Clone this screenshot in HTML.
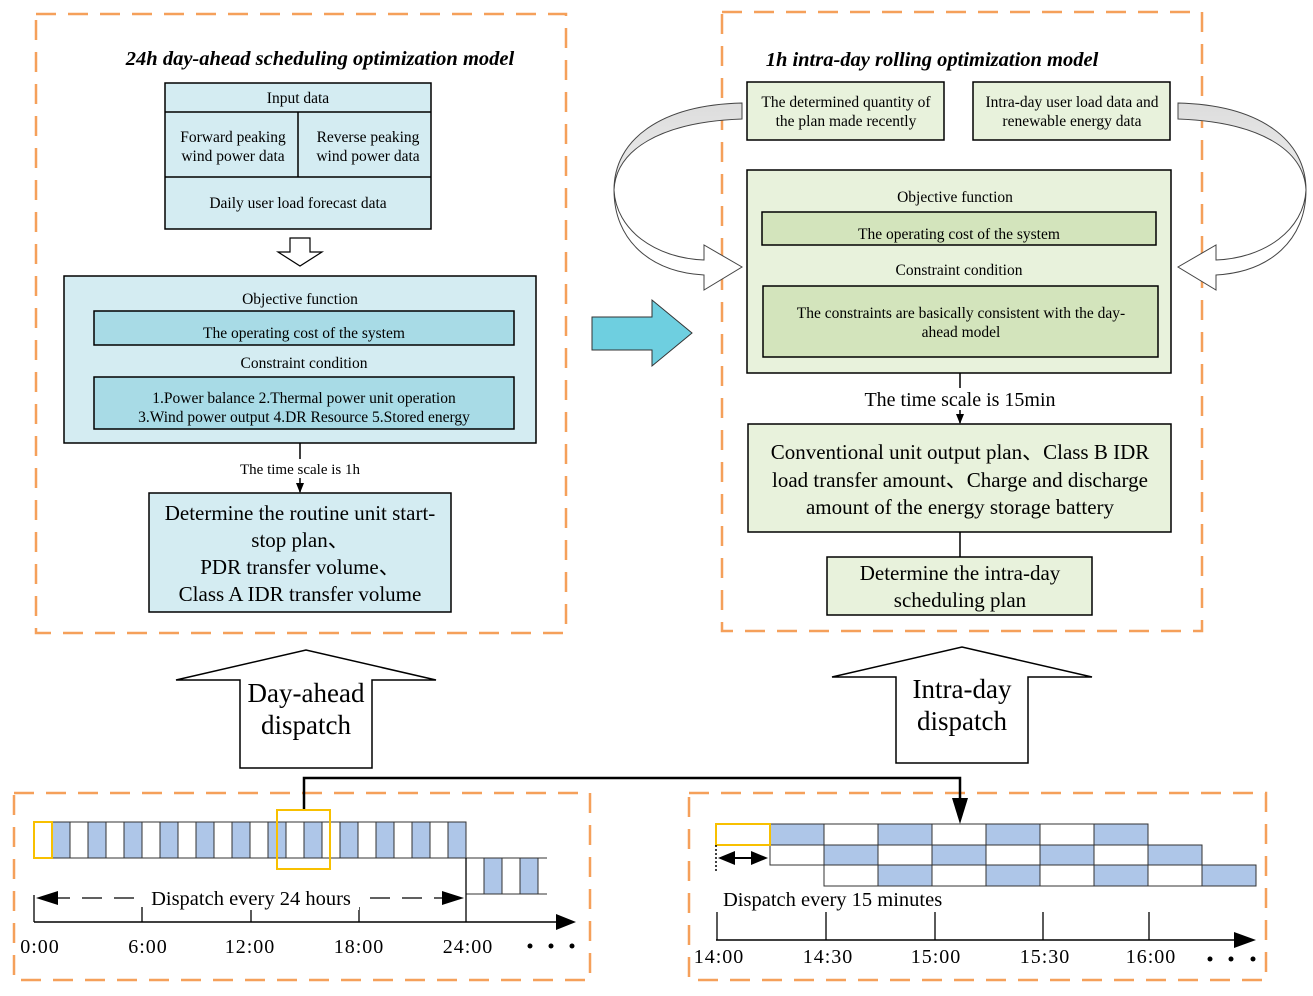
<!DOCTYPE html>
<html><head><meta charset="utf-8"><style>
body{margin:0;background:#fff}
svg text{font-family:"Liberation Serif",serif;fill:#000}
</style></head><body>
<svg width="1313" height="991" viewBox="0 0 1313 991" xmlns="http://www.w3.org/2000/svg">
<defs>
<linearGradient id="g" x1="0" y1="0" x2="0" y2="1"><stop offset="0" stop-color="#ddd"/><stop offset="0.5" stop-color="#eee"/><stop offset="0.55" stop-color="#fff"/><stop offset="1" stop-color="#fff"/></linearGradient>
<marker id="ah" markerWidth="10" markerHeight="10" refX="9" refY="5" orient="auto" markerUnits="userSpaceOnUse"><path d="M0,1 L10,5 L0,9 Z" fill="#000"/></marker>
</defs>
<g fill="none" stroke="#f5a05a" stroke-width="2.5" stroke-dasharray="20,12">
<rect x="36" y="14" width="530" height="619"/>
<rect x="722" y="12" width="480" height="619"/>
<rect x="14" y="793" width="576" height="187"/>
<rect x="689" y="793" width="577" height="187"/>
</g>
<!-- LEFT TOP -->
<text x="320" y="65" font-size="20.5" font-weight="bold" font-style="italic" text-anchor="middle">24h day-ahead scheduling optimization model</text>
<g stroke="#000" stroke-width="1.5" fill="#d4ecf2">
<rect x="165" y="83" width="266" height="146"/>
<line x1="165" y1="112" x2="431" y2="112"/><line x1="165" y1="177" x2="431" y2="177"/><line x1="298" y1="112" x2="298" y2="177"/>
</g>
<g font-size="15.5" text-anchor="middle">
<text x="298" y="103">Input data</text>
<text x="233" y="142">Forward peaking</text><text x="233" y="161">wind power data</text>
<text x="368" y="142">Reverse peaking</text><text x="368" y="161">wind power data</text>
<text x="298" y="208">Daily user load forecast data</text>
</g>
<path d="M290,238 H310 V252 H322 L300,266 L278,252 H290 Z" fill="#fff" stroke="#000" stroke-width="1.2"/>
<rect x="64" y="276" width="472" height="167" fill="#d4ecf2" stroke="#000" stroke-width="1.5"/>
<rect x="94" y="311" width="420" height="34" fill="#a8dbe6" stroke="#000" stroke-width="1.5"/>
<rect x="94" y="377" width="420" height="52" fill="#a8dbe6" stroke="#000" stroke-width="1.5"/>
<g font-size="15.5" text-anchor="middle">
<text x="300" y="304">Objective function</text>
<text x="304" y="338">The operating cost of the system</text>
<text x="304" y="368">Constraint condition</text>
<text x="304" y="403">1.Power balance 2.Thermal power unit operation</text>
<text x="304" y="422">3.Wind power output 4.DR Resource 5.Stored energy</text>
</g>
<line x1="300" y1="443" x2="300" y2="492" stroke="#000" stroke-width="1.5" marker-end="url(#ah)"/>
<rect x="236" y="459" width="130" height="19" fill="#fff"/>
<text x="300" y="474" font-size="15" text-anchor="middle">The time scale is 1h</text>
<rect x="149" y="493" width="302" height="119" fill="#d4ecf2" stroke="#000" stroke-width="1.5"/>
<g font-size="21" text-anchor="middle">
<text x="300" y="520">Determine the routine unit start-</text>
<text x="300" y="547">stop plan、</text>
<text x="300" y="574">PDR transfer volume、</text>
<text x="300" y="601">Class A IDR transfer volume</text>
</g>
<path d="M592,317 H652 V300 L692,333 L652,366 V350 H592 Z" fill="#6ecfe0" stroke="#333" stroke-width="1"/>
<!-- RIGHT TOP -->
<text x="932" y="66" font-size="20.5" font-weight="bold" font-style="italic" text-anchor="middle">1h intra-day rolling optimization model</text>
<g stroke="#000" stroke-width="1.5" fill="#e8f2dc">
<rect x="747" y="82" width="197" height="58"/>
<rect x="973" y="82" width="197" height="58"/>
<rect x="747" y="170" width="424" height="203"/>
<rect x="762" y="212" width="394" height="33" fill="#d3e4bc"/>
<rect x="763" y="286" width="395" height="71" fill="#d3e4bc"/>
<rect x="748" y="424" width="423" height="108"/>
<rect x="827" y="557" width="265" height="58"/>
</g>
<g font-size="15.5" text-anchor="middle">
<text x="846" y="107">The determined quantity of</text><text x="846" y="126">the plan made recently</text>
<text x="1072" y="107">Intra-day user load data and</text><text x="1072" y="126">renewable energy data</text>
<text x="955" y="202">Objective function</text>
<text x="959" y="239">The operating cost of the system</text>
<text x="959" y="275">Constraint condition</text>
<text x="961" y="318">The constraints are basically consistent with the day-</text>
<text x="961" y="337">ahead model</text>
</g>
<line x1="960" y1="373" x2="960" y2="423" stroke="#000" stroke-width="1.5" marker-end="url(#ah)"/>
<rect x="852" y="388" width="216" height="22" fill="#fff"/>
<text x="960" y="406" font-size="20" text-anchor="middle">The time scale is 15min</text>
<g font-size="21" text-anchor="middle">
<text x="960" y="459">Conventional unit output plan、Class B IDR</text>
<text x="960" y="487">load transfer amount、Charge and discharge</text>
<text x="960" y="514">amount of the energy storage battery</text>
<text x="960" y="580">Determine the intra-day</text>
<text x="960" y="607">scheduling plan</text>
</g>
<line x1="960" y1="532" x2="960" y2="557" stroke="#000" stroke-width="1.5"/>
<!-- curved arrows -->
<path d="M742,103 C660,105 614,140 614,190 C614,240 650,272 704,275 L704,290 L742,267 L704,245 L704,260 C655,258 616,230 614,190 C616,150 660,122 742,119 Z" fill="url(#g)" stroke="#444" stroke-width="1"/>
<path d="M742,103 C660,105 614,140 614,190 C614,240 650,272 704,275 L704,290 L742,267 L704,245 L704,260 C655,258 616,230 614,190 C616,150 660,122 742,119 Z" fill="url(#g)" stroke="#444" stroke-width="1" transform="translate(1920,0) scale(-1,1)"/>
<!-- up arrows -->
<path d="M240,768 V680 H176 L306,650 L436,680 H372 V768 Z" fill="#fff" stroke="#000" stroke-width="1.5"/>
<text x="306" y="702" font-size="27" text-anchor="middle">Day-ahead</text>
<text x="306" y="734" font-size="27" text-anchor="middle">dispatch</text>
<path d="M896,763 V677 H832 L962,647 L1092,677 H1028 V763 Z" fill="#fff" stroke="#000" stroke-width="1.5"/>
<text x="962" y="698" font-size="27" text-anchor="middle">Intra-day</text>
<text x="962" y="730" font-size="27" text-anchor="middle">dispatch</text>
<!-- connector -->
<polyline points="304,810 304,778 960,778 960,800" fill="none" stroke="#000" stroke-width="2.5"/>
<path d="M952,798 L968,798 L960,824 Z" fill="#000"/>
<!-- bottom left timeline -->
<g stroke="#333" stroke-width="1">
<rect x="34" y="822" width="432" height="36" fill="#fff"/>
<rect x="52" y="822" width="18" height="36" fill="#aec6e8"/><rect x="88" y="822" width="18" height="36" fill="#aec6e8"/>
<rect x="124" y="822" width="18" height="36" fill="#aec6e8"/><rect x="160" y="822" width="18" height="36" fill="#aec6e8"/>
<rect x="196" y="822" width="18" height="36" fill="#aec6e8"/><rect x="232" y="822" width="18" height="36" fill="#aec6e8"/>
<rect x="268" y="822" width="18" height="36" fill="#aec6e8"/><rect x="304" y="822" width="18" height="36" fill="#aec6e8"/>
<rect x="340" y="822" width="18" height="36" fill="#aec6e8"/><rect x="376" y="822" width="18" height="36" fill="#aec6e8"/>
<rect x="412" y="822" width="18" height="36" fill="#aec6e8"/><rect x="448" y="822" width="18" height="36" fill="#aec6e8"/>
<line x1="70" y1="822" x2="70" y2="858"/><line x1="106" y1="822" x2="106" y2="858"/><line x1="142" y1="822" x2="142" y2="858"/><line x1="178" y1="822" x2="178" y2="858"/><line x1="214" y1="822" x2="214" y2="858"/><line x1="250" y1="822" x2="250" y2="858"/><line x1="286" y1="822" x2="286" y2="858"/><line x1="322" y1="822" x2="322" y2="858"/><line x1="358" y1="822" x2="358" y2="858"/><line x1="394" y1="822" x2="394" y2="858"/><line x1="430" y1="822" x2="430" y2="858"/>
<line x1="466" y1="858" x2="547" y2="858"/><line x1="466" y1="894" x2="547" y2="894"/>
<rect x="484" y="858" width="18" height="36" fill="#aec6e8"/><rect x="520" y="858" width="18" height="36" fill="#aec6e8"/>
</g>
<rect x="34" y="822" width="18" height="36" fill="#fff" stroke="#f8c000" stroke-width="2"/>
<rect x="277" y="810" width="53" height="59" fill="none" stroke="#f8c000" stroke-width="2"/>
<line x1="34" y1="922" x2="560" y2="922" stroke="#000" stroke-width="1.5"/>
<path d="M556,914 L576,922 L556,930 Z" fill="#000"/>
<g stroke="#000" stroke-width="1.3">
<line x1="34" y1="895" x2="34" y2="922"/><line x1="142" y1="907" x2="142" y2="922"/><line x1="251" y1="907" x2="251" y2="922"/><line x1="359" y1="907" x2="359" y2="922"/><line x1="466" y1="858" x2="466" y2="922"/>
<line x1="50" y1="898" x2="450" y2="898" stroke-dasharray="20,12"/>
</g>
<path d="M36,898 L58,891 L58,905 Z" fill="#000"/><path d="M464,898 L442,891 L442,905 Z" fill="#000"/>
<rect x="143" y="886" width="216" height="24" fill="#fff"/>
<text x="251" y="905" font-size="20.5" text-anchor="middle">Dispatch every 24 hours</text>
<g font-size="20" text-anchor="middle" letter-spacing="1">
<text x="40" y="953">0:00</text><text x="148" y="953">6:00</text><text x="250" y="953">12:00</text><text x="359" y="953">18:00</text><text x="468" y="953">24:00</text>
</g>
<g fill="#000"><circle cx="530" cy="946" r="2.5"/><circle cx="551" cy="946" r="2.5"/><circle cx="572" cy="946" r="2.5"/></g>
<!-- bottom right timeline -->
<g stroke="#333" stroke-width="1">
<rect x="770" y="824" width="54" height="21" fill="#aec6e8"/><rect x="824" y="824" width="54" height="21" fill="#fff"/><rect x="878" y="824" width="54" height="21" fill="#aec6e8"/><rect x="932" y="824" width="54" height="21" fill="#fff"/><rect x="986" y="824" width="54" height="21" fill="#aec6e8"/><rect x="1040" y="824" width="54" height="21" fill="#fff"/><rect x="1094" y="824" width="54" height="21" fill="#aec6e8"/>
<rect x="770" y="845" width="54" height="20" fill="#fff"/><rect x="824" y="845" width="54" height="20" fill="#aec6e8"/><rect x="878" y="845" width="54" height="20" fill="#fff"/><rect x="932" y="845" width="54" height="20" fill="#aec6e8"/><rect x="986" y="845" width="54" height="20" fill="#fff"/><rect x="1040" y="845" width="54" height="20" fill="#aec6e8"/><rect x="1094" y="845" width="54" height="20" fill="#fff"/><rect x="1148" y="845" width="54" height="20" fill="#aec6e8"/>
<rect x="824" y="865" width="54" height="21" fill="#fff"/><rect x="878" y="865" width="54" height="21" fill="#aec6e8"/><rect x="932" y="865" width="54" height="21" fill="#fff"/><rect x="986" y="865" width="54" height="21" fill="#aec6e8"/><rect x="1040" y="865" width="54" height="21" fill="#fff"/><rect x="1094" y="865" width="54" height="21" fill="#aec6e8"/><rect x="1148" y="865" width="54" height="21" fill="#fff"/><rect x="1202" y="865" width="54" height="21" fill="#aec6e8"/>
</g>
<rect x="716" y="824" width="54" height="21" fill="#fff" stroke="#f8c000" stroke-width="2"/>
<line x1="716" y1="845" x2="716" y2="872" stroke="#000" stroke-width="1.5" stroke-dasharray="2,2"/>
<line x1="730" y1="858" x2="756" y2="858" stroke="#000" stroke-width="2"/>
<path d="M718,858 L735,851 L735,865 Z" fill="#000"/><path d="M768,858 L751,851 L751,865 Z" fill="#000"/>
<text x="723" y="906" font-size="20.5">Dispatch every 15 minutes</text>
<line x1="716" y1="940" x2="1238" y2="940" stroke="#000" stroke-width="1.5"/>
<path d="M1234,932 L1256,940 L1234,948 Z" fill="#000"/>
<g stroke="#000" stroke-width="1.3">
<line x1="717" y1="912" x2="717" y2="940"/><line x1="826" y1="912" x2="826" y2="940"/><line x1="935" y1="912" x2="935" y2="940"/><line x1="1043" y1="912" x2="1043" y2="940"/><line x1="1149" y1="912" x2="1149" y2="940"/>
</g>
<g font-size="20" text-anchor="middle" letter-spacing="1">
<text x="719" y="963">14:00</text><text x="828" y="963">14:30</text><text x="936" y="963">15:00</text><text x="1045" y="963">15:30</text><text x="1151" y="963">16:00</text>
</g>
<g fill="#000"><circle cx="1210" cy="959" r="2.5"/><circle cx="1231" cy="959" r="2.5"/><circle cx="1253" cy="959" r="2.5"/></g>
</svg>
</body></html>
